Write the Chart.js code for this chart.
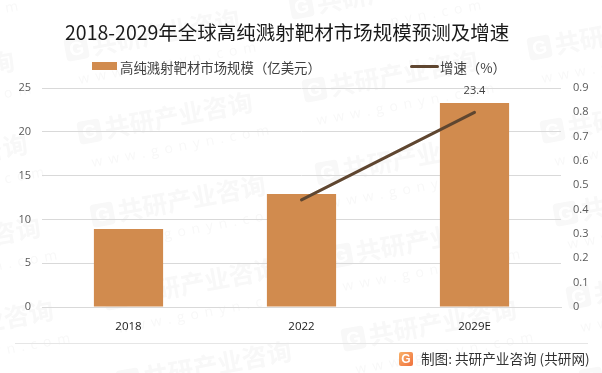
<!DOCTYPE html>
<html>
<head>
<meta charset="utf-8">
<script src="https://cdn.jsdelivr.net/npm/chart.js@4"></script>
<style>
  body { margin: 0; background: #fff; font-family: "Noto Sans CJK SC", sans-serif; }
  #wrap { position: relative; width: 602px; height: 373px; overflow: hidden; }
  #wrap div, #wrap span { position: absolute; white-space: nowrap; }
  #title { left: 65px; top: 17px; font-size: 19.5px; line-height: 30px; color: #1a1a1a; }
  .legendText { top: 58px; font-size: 13.4px; line-height: 18px; color: #404040; }
  #swatchBar { left: 92px; top: 62px; width: 25px; height: 8px; background: #d18b4e; }
  #swatchLine { left: 410px; top: 65px; width: 29px; height: 3px; border-radius: 2px; background: #5f4630; }
  #footLine { left: 15px; top: 343px; width: 573px; height: 1px; background: #e6e6e6; }
  #logo { left: 399px; top: 352px; width: 14px; height: 14px; border-radius: 2px;
    background: linear-gradient(135deg, #f8b26a, #f0703c); color: #fff;
    font: bold 12px/14px "Liberation Sans", sans-serif; text-align: center; }
  #source { left: 421px; top: 349px; font-size: 13.6px; line-height: 19px; color: #333; }
</style>
</head>
<body>
<div id="wrap">
  <canvas id="chart" width="602" height="373"></canvas>
  <div id="title">2018-2029年全球高纯溅射靶材市场规模预测及增速</div>
  <div id="swatchBar"></div>
  <div class="legendText" style="left:120px">高纯溅射靶材市场规模（亿美元）</div>
  <div id="swatchLine"></div>
  <div class="legendText" style="left:440px">增速（%）</div>
  <div id="footLine"></div>
  <div id="logo">G</div>
  <div id="source">制图: 共研产业咨询 (共研网)</div>
</div>
<script>
// Data
const categories = ['2018', '2022', '2029E'];
const marketSize = [8.9, 12.9, 23.3];
const marketLabels = ['', '', '23.4'];
const growthRate = [null, 0.44, 0.8];
const leftTicks = [0, 5, 10, 15, 20, 25];
const rightTicks = [0, 0.1, 0.2, 0.3, 0.4, 0.5, 0.6, 0.7, 0.8, 0.9];

const tickFont = { family: '"Open Sans", sans-serif', size: 11 };

// Watermark tiles behind the chart
const watermark = {
    id: 'watermark',
    beforeDraw(chart) {
        const ctx = chart.ctx;
        ctx.save();
        for (let i = -2; i <= 3; i++) {
            for (let j = -2; j <= 5; j++) {
                const x = 67 + i * 238 + j * 13;
                const y = 60 + i * 41 + j * 83;
                if (x < -200 || x > 610 || y < -20 || y > 400) continue;
                ctx.save();
                ctx.translate(x, y);
                ctx.rotate(-10.5 * Math.PI / 180);
                ctx.fillStyle = '#f8f8f8';
                ctx.beginPath();
                ctx.roundRect(0, -21, 23, 23, 4);
                ctx.fill();
                ctx.fillStyle = '#fff';
                ctx.font = 'bold 19px "Liberation Sans"';
                ctx.textAlign = 'center';
                ctx.fillText('G', 11.5, -3);
                ctx.fillStyle = '#f8f8f8';
                ctx.textAlign = 'left';
                ctx.font = 'bold 25px "Noto Sans CJK SC"';
                ctx.fillText('共研产业咨询', 27, 0);
                ctx.font = '14px "Open Sans"';
                ctx.letterSpacing = '6px';
                ctx.fillText('www.gonyn.com', 8, 26);
                ctx.restore();
            }
        }
        ctx.restore();
    }
};

// Value label above the last bar
const barLabels = {
    id: 'barLabels',
    afterDatasetsDraw(chart) {
        const ctx = chart.ctx;
        const meta = chart.getDatasetMeta(1);
        ctx.save();
        ctx.font = '11px "Open Sans"';
        ctx.fillStyle = '#404040';
        ctx.textAlign = 'center';
        meta.data.forEach((bar, i) => {
            ctx.fillText(marketLabels[i], bar.x, bar.y - 9);
        });
        ctx.restore();
    }
};

new Chart(document.getElementById('chart').getContext('2d'), {
    data: {
        labels: categories,
        datasets: [
            {
                type: 'line',
                label: '增速（%）',
                data: growthRate,
                yAxisID: 'y1',
                borderColor: '#5f4630',
                borderWidth: 3,
                borderCapStyle: 'round',
                pointRadius: 0,
                order: 1
            },
            {
                type: 'bar',
                label: '高纯溅射靶材市场规模（亿美元）',
                data: marketSize,
                yAxisID: 'y',
                backgroundColor: '#d18b4e',
                categoryPercentage: 1,
                barPercentage: 0.4,
                order: 2
            }
        ]
    },
    options: {
        responsive: false,
        animation: false,
        layout: { padding: { top: 88 } },
        plugins: { legend: { display: false }, title: { display: false }, tooltip: { enabled: false } },
        scales: {
            x: {
                grid: { display: false },
                border: { color: '#d9d9d9' },
                ticks: { color: '#1a1a1a', font: { ...tickFont, size: 11.5 }, padding: 5, maxRotation: 0 },
                afterFit(axis) { axis.height = 66; }
            },
            y: {
                position: 'left',
                min: 0,
                max: 25,
                afterBuildTicks(axis) { axis.ticks = leftTicks.map(v => ({ value: v })); },
                grid: { color: '#d9d9d9', drawTicks: false },
                border: { display: false },
                ticks: { color: '#595959', font: tickFont, padding: 11 },
                afterFit(axis) { axis.width = 42; }
            },
            y1: {
                position: 'right',
                min: 0,
                max: 0.9,
                afterBuildTicks(axis) { axis.ticks = rightTicks.map(v => ({ value: v })); },
                grid: { display: false, drawTicks: false },
                border: { display: false },
                ticks: { color: '#595959', font: tickFont, padding: 12 },
                afterFit(axis) { axis.width = 41; }
            }
        }
    },
    plugins: [watermark, barLabels]
});
</script>
</body>
</html>
